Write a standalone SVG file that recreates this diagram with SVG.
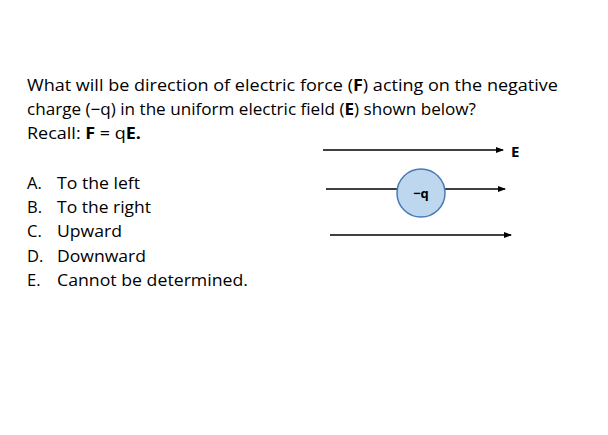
<svg xmlns="http://www.w3.org/2000/svg" width="608" height="435" viewBox="0 0 608 435">
<defs>
<marker id="ah" markerWidth="8" markerHeight="6" refX="7" refY="3" orient="auto" markerUnits="userSpaceOnUse"><path d="M0,0 L8,3 L0,6 Z" fill="#000"/></marker>
<style>
text{font-family:"Open Sans","Liberation Sans",sans-serif;font-size:16.5px;fill:#000}
.c{stroke:#000;stroke-width:1.5;marker-end:url(#ah)}
</style>
</defs>
<rect width="608" height="435" fill="#fff"/>
<g id="question">
<text x="27" y="91" textLength="531" lengthAdjust="spacingAndGlyphs">What will be direction of electric force (<tspan font-weight="bold">F</tspan>) acting on the negative</text>
<text x="27" y="115" textLength="449" lengthAdjust="spacingAndGlyphs">charge (−q)  in the uniform electric field (<tspan font-weight="bold">E</tspan>) shown below?</text>
<text x="27" y="139" textLength="114" lengthAdjust="spacingAndGlyphs">Recall: <tspan font-weight="bold">F</tspan> = q<tspan font-weight="bold">E.</tspan></text>
</g>
<g id="options">
<text x="27" y="189">A.</text><text x="57" y="189" textLength="83" lengthAdjust="spacingAndGlyphs">To the left</text>
<text x="27" y="213">B.</text><text x="57" y="213" textLength="94" lengthAdjust="spacingAndGlyphs">To the right</text>
<text x="27" y="237">C.</text><text x="57" y="237" textLength="65" lengthAdjust="spacingAndGlyphs">Upward</text>
<text x="27" y="262">D.</text><text x="57" y="262" textLength="89" lengthAdjust="spacingAndGlyphs">Downward</text>
<text x="27" y="286">E.</text><text x="57" y="286" textLength="191" lengthAdjust="spacingAndGlyphs">Cannot be determined.</text>
</g>
<g id="connectors">
<line class="c" x1="323" y1="150" x2="503" y2="150"/>
<line class="c" x1="326" y1="189" x2="505" y2="189"/>
<line class="c" x1="330" y1="235" x2="511" y2="235"/>
</g>
<g id="E-label"><text x="511" y="157" font-weight="bold" style="font-size:15px">E</text></g>
<g id="charge">
<circle cx="421" cy="193" r="24" fill="#bdd7ee" stroke="#4a7ab5" stroke-width="1.5"/>
<text x="421" y="198" text-anchor="middle" font-weight="bold" style="font-size:13px">−q</text>
</g>
</svg>
